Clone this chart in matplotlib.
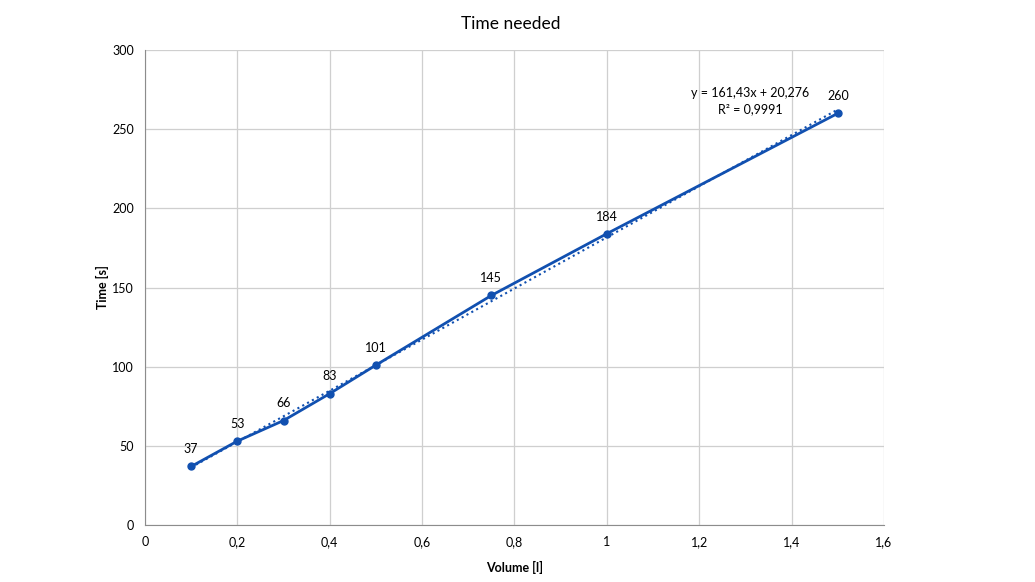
import numpy as np
import matplotlib.pyplot as plt

plt.rcParams['font.family'] = ['Lato', 'DejaVu Sans']

volume = [0.1, 0.2, 0.3, 0.4, 0.5, 0.75, 1.0, 1.5]
time_s = [37, 53, 66, 83, 101, 145, 184, 260]
slope = 161.43
intercept = 20.276
r2 = "0,9991"

blue = '#1150B0'

fig = plt.figure(figsize=(10.35, 5.82), dpi=100)
ax = fig.add_axes([0.1401, 0.0979, 0.7140, 0.8162])

# trendline
tx = np.array([volume[0], volume[-1]])
ax.plot(tx, slope * tx + intercept, color=blue, linestyle=':', linewidth=1.5, zorder=2)

# data
ax.plot(volume, time_s, color=blue, linewidth=2, marker='o', markersize=5, zorder=3)
for v, t in zip(volume, time_s):
    ax.annotate(str(t), (v, t), xytext=(0, 8), textcoords='offset points',
                ha='center', va='bottom', fontsize=9)

ax.text(1.31, 268, "y = 161,43x + 20,276\nR² = " + r2, ha='center', va='center',
        fontsize=9, linespacing=1.4)

ax.set_xlim(0, 1.6)
ax.set_ylim(0, 300)
ax.set_xticks(np.arange(0, 1.61, 0.2))
ax.set_xticklabels(['0', '0,2', '0,4', '0,6', '0,8', '1', '1,2', '1,4', '1,6'])
ax.set_yticks(range(0, 301, 50))
ax.tick_params(length=0, labelsize=9, pad=8)
ax.grid(True, color='#CFCFCF', linewidth=0.9)
ax.set_axisbelow(True)
for s in ['top', 'right']:
    ax.spines[s].set_visible(False)
for s in ['bottom', 'left']:
    ax.spines[s].set_color('#8C8C8C')

ax.set_xlabel("Volume [l]", fontsize=9, fontweight='bold', labelpad=9)
ax.set_ylabel("Time [s]", fontsize=9, fontweight='bold', labelpad=2)
fig.text(0.4935, 0.958, "Time needed", ha='center', va='center', fontsize=12.5)

fig.savefig('out.png', dpi=100)
